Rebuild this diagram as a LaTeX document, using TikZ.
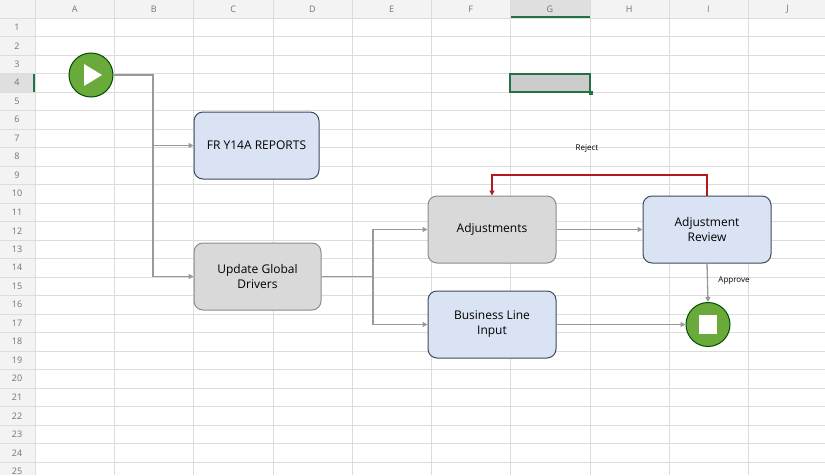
\documentclass[tikz,border=0pt]{standalone}
\usepackage{fontspec}
\setmainfont{Open Sans}
\usetikzlibrary{arrows.meta}
\definecolor{gridc}{HTML}{DADCDD}
\definecolor{hdr}{HTML}{F3F3F3}
\definecolor{blu}{HTML}{DAE3F3}
\definecolor{blub}{HTML}{3E4A5E}
\definecolor{gry}{HTML}{D9D9D9}
\definecolor{gryb}{HTML}{8C8C8C}
\definecolor{grn}{HTML}{6AAA3A}
\definecolor{xlg}{HTML}{217346}
\definecolor{rej}{HTML}{B01C1C}
\begin{document}
\begin{tikzpicture}[x=1pt,y=-1pt,
  box/.style={rounded corners=9pt,line width=1pt,font=\fontsize{12}{15}\selectfont,align=center,inner sep=0},
  bbox/.style={box,fill=blu,draw=blub},
  gbox/.style={box,fill=gry,draw=gryb},
  conn/.style={draw=gray!80,line width=1.3pt,-{Triangle[length=5pt,width=5pt]}},
  lbl/.style={font=\fontsize{8}{10}\selectfont}]
\useasboundingbox (0,0) rectangle (825,475);
\fill[white] (0,0) rectangle (825,475);
% headers
\fill[hdr] (0,0) rectangle (825,18);
\fill[hdr] (0,0) rectangle (35,475);
\fill[gray!25] (510,0) rectangle (590,18);
\draw[xlg,line width=1.5pt] (510,17) -- (590,17);
\fill[gray!25] (0,74) rectangle (35,92);
\draw[xlg,line width=1.5pt] (34,74) -- (34,92);
% grid
\foreach \x in {35,114,193,273,352,431,510,590,669,748} \draw[gridc] (\x,0) -- (\x,475);
\foreach \i in {0,...,25} \draw[gridc] (0,18+\i*18.5) -- (825,18+\i*18.5);
\foreach \l [count=\k] in {A,B,C,D,E,F,G,H,I,J}
  \node[font=\fontsize{9}{10}\selectfont,text=gray!90!black] at (-4.5+\k*79.2,9.5) {\l};
\foreach \r in {1,...,25}
  \node[font=\fontsize{9}{10}\selectfont,text=gray!90!black] at (17,18+\r*18.5-9.25) {\r};
% selected cell
\fill[gray!40] (510,74) rectangle (590,92);
\draw[xlg,line width=1.3pt] (510,74) rectangle (590,92);
\fill[xlg] (588.5,90.5) rectangle (592.5,94.5);
% shapes
\node[circle,fill=grn,draw=black!70!green,line width=1pt,minimum size=44pt,inner sep=0] (start) at (91,75) {};
\fill[white] (84,64) -- (84,86) -- (102,75) -- cycle;
\node[bbox,minimum width=125pt,minimum height=67pt] (fr) at (256.5,145.5) {FR Y14A REPORTS};
\node[gbox,minimum width=127pt,minimum height=67pt] (ugd) at (257.5,276.5) {Update Global\\Drivers};
\node[gbox,minimum width=128pt,minimum height=67pt] (adj) at (492,229.5) {Adjustments};
\node[bbox,minimum width=128pt,minimum height=67pt] (bli) at (492,324.5) {Business Line\\Input};
\node[bbox,minimum width=128pt,minimum height=67pt] (ar) at (707,229.5) {Adjustment\\Review};
\node[circle,fill=grn,draw=black!70!green,line width=1pt,minimum size=44pt,inner sep=0] (end) at (708,324.5) {};
\fill[white] (699,315) rectangle (717,334);
% connectors
\coordinate (b1) at (153,75);
\coordinate (b2) at (153,145.5);
\coordinate (b3) at (153,276.5);
\coordinate (e1) at (373,276.5);
\coordinate (e2) at (373,229.5);
\coordinate (e3) at (373,324.5);
\draw[conn] (start.east) -- (b1) -- (b2) -- (fr.west);
\draw[conn] (b2) -- (b3) -- (ugd.west);
\draw[conn] (ugd.east) -- (e1) -- (e2) -- (adj.west);
\draw[conn] (e1) -- (e3) -- (bli.west);
\draw[conn] (adj.east) -- (ar.west);
\draw[conn] (bli.east) -- (end.west);
\draw[conn] (707,263) -- (end.north);
\coordinate (r1) at (707,175);
\coordinate (r2) at (492,175);
\draw[draw=rej,line width=1.5pt,-{Triangle[length=5pt,width=5pt]}] (ar.north -| r1) -- (r1) -- (r2) -- (adj.north);
\node[lbl] (rl) at (587,149) {Reject};
\node[lbl] (al) at (734,281) {Approve};
\end{tikzpicture}
\end{document}
